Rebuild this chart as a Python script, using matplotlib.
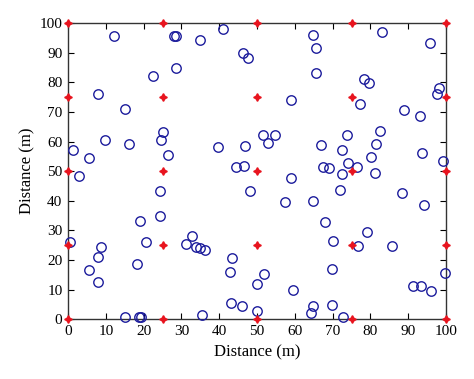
import matplotlib
matplotlib.use("Agg")
import matplotlib.pyplot as plt
import numpy as np

plt.rcParams['font.family'] = ['Liberation Serif', 'DejaVu Serif']

# Random sensor nodes (blue circles)
node_x = [12.2, 28.0, 28.6, 34.9, 41.0, 46.2, 47.6, 28.5, 22.5, 8.0, 15.2, 25.2, 24.5, 9.9,
          16.2, 1.3, 5.6, 26.4, 39.8, 46.9, 44.5, 46.5, 3.0,
          64.8, 83.1, 95.7, 65.6, 65.6, 78.4, 79.5, 98.2, 97.7, 59.1, 77.2, 88.9, 93.1, 82.5,
          51.5, 54.7, 52.8, 73.7, 66.8, 81.4, 72.5, 93.7, 80.1, 99.1, 67.4, 69.0, 74.0, 76.4,
          72.5, 81.1, 58.9,
          24.3, 48.1, 24.3, 19.0, 32.8, 31.2, 33.8, 34.9, 36.3, 20.5, 0.6, 8.6, 7.8, 18.2,
          43.4, 42.9, 5.5, 8.0, 49.9, 43.2, 46.1, 49.9, 35.4, 15.2, 18.7, 19.3,
          57.4, 64.8, 71.9, 88.3, 94.2, 67.9, 79.2, 70.1, 76.7, 85.7, 69.9, 51.9, 59.5, 91.2,
          93.3, 95.9, 99.6, 64.8, 64.3, 69.9, 72.8]
node_y = [95.5, 95.5, 95.5, 94.4, 97.9, 90.0, 88.3, 84.7, 82.1, 76.2, 70.9, 63.1, 60.5, 60.5,
          59.0, 57.0, 54.3, 55.4, 58.1, 58.4, 51.4, 51.7, 48.3,
          96.0, 97.0, 93.2, 91.7, 83.2, 81.2, 79.7, 78.0, 76.2, 73.9, 72.6, 70.7, 68.6, 63.7,
          62.2, 62.2, 59.6, 62.2, 58.8, 59.3, 57.0, 56.1, 54.8, 53.5, 51.4, 51.1, 52.6, 51.5,
          49.1, 49.4, 47.7,
          43.2, 43.2, 34.7, 33.2, 28.0, 25.3, 24.4, 24.1, 23.3, 25.9, 25.9, 24.4, 20.9, 18.6,
          20.6, 16.0, 16.6, 12.7, 11.8, 5.4, 4.6, 2.8, 1.4, 0.7, 0.7, 0.7,
          39.6, 40.0, 43.5, 42.7, 38.7, 32.7, 29.4, 26.5, 24.8, 24.8, 16.9, 15.4, 9.9, 11.3,
          11.3, 9.6, 15.6, 4.4, 1.9, 4.8, 0.8]

# Grid anchor points (red markers)
grid_vals = [0, 25, 50, 75, 100]
gx, gy = np.meshgrid(grid_vals, grid_vals)

x_ticks = [0, 10, 20, 30, 40, 50, 60, 70, 80, 90, 100]
y_ticks = [0, 10, 20, 30, 40, 50, 60, 70, 80, 90, 100]

fig = plt.figure(figsize=(4.74, 3.79), dpi=100)
ax = fig.add_axes([0.1435, 0.158, 0.7975, 0.781])

ax.plot(node_x, node_y, linestyle='none', marker='o', markersize=6.8,
        markerfacecolor='none', markeredgecolor='#1c1c9c', markeredgewidth=1.0,
        clip_on=False, zorder=3)
ax.plot(gx.ravel(), gy.ravel(), linestyle='none', marker=(4, 1, 0), markersize=5.5,
        color='#e8141e', clip_on=False, zorder=4)

ax.set_xlim(0, 100)
ax.set_ylim(0, 100)
ax.set_xticks(x_ticks)
ax.set_yticks(y_ticks)
ax.tick_params(direction='in', top=True, right=True, length=4, width=0.8,
               labelsize=11, pad=4)
for s in ax.spines.values():
    s.set_linewidth(1.0)
    s.set_color('#333333')
ax.set_xlabel('Distance (m)', fontsize=12, labelpad=5)
ax.set_ylabel('Distance (m)', fontsize=12, labelpad=3)

fig.savefig('out.png', dpi=100)
